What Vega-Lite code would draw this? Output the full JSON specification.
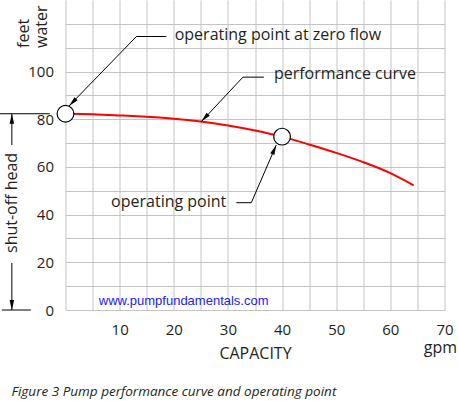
{
  "$schema": "https://vega.github.io/schema/vega-lite/v6.json",
  "width": 379,
  "height": 310,
  "autosize": {"type": "none"},
  "padding": {"left": 65.5, "top": 0, "right": 14.5, "bottom": 91},
  "background": "white",
  "title": {
    "text": "Figure 3 Pump performance curve and operating point",
    "orient": "bottom",
    "anchor": "start",
    "frame": "group",
    "dx": -54,
    "offset": 24,
    "font": "Open Sans",
    "fontSize": 13.5,
    "fontStyle": "italic",
    "fontWeight": "normal",
    "color": "#231f20"
  },
  "datasets": {
    "curve": [
      {"gpm": 0, "head": 82.3},
      {"gpm": 5, "head": 82.1},
      {"gpm": 10, "head": 81.6},
      {"gpm": 15, "head": 81.0},
      {"gpm": 20, "head": 80.2},
      {"gpm": 25, "head": 79.0},
      {"gpm": 30, "head": 77.4},
      {"gpm": 35, "head": 75.3},
      {"gpm": 40, "head": 72.7},
      {"gpm": 45, "head": 69.4},
      {"gpm": 50, "head": 65.9},
      {"gpm": 55, "head": 62.0},
      {"gpm": 60, "head": 57.4},
      {"gpm": 64.3, "head": 52.3}
    ],
    "points": [
      {"name": "operating point at zero flow", "gpm": 0, "head": 82.3},
      {"name": "operating point", "gpm": 40, "head": 72.7}
    ],
    "leaders": [
      {"id": "zero", "seq": 1, "gpm": 18.63, "head": 114.7},
      {"id": "zero", "seq": 2, "gpm": 13.1, "head": 114.7},
      {"id": "zero", "seq": 3, "gpm": 0.66, "head": 85.6},
      {"id": "curve", "seq": 1, "gpm": 36.64, "head": 97.65},
      {"id": "curve", "seq": 2, "gpm": 32.77, "head": 97.65},
      {"id": "curve", "seq": 3, "gpm": 25.09, "head": 79.0},
      {"id": "op", "seq": 1, "gpm": 31.55, "head": 45.0},
      {"id": "op", "seq": 2, "gpm": 34.32, "head": 45.0},
      {"id": "op", "seq": 3, "gpm": 38.93, "head": 69.2},
      {"id": "up", "seq": 1, "gpm": -9.91, "head": 69.2},
      {"id": "up", "seq": 2, "gpm": -9.91, "head": 82.3},
      {"id": "down", "seq": 1, "gpm": -9.91, "head": 19.7},
      {"id": "down", "seq": 2, "gpm": -9.91, "head": 0},
      {"id": "top", "seq": 1, "gpm": -12.12, "head": 82.3},
      {"id": "top", "seq": 2, "gpm": -2.9, "head": 82.3},
      {"id": "bottom", "seq": 1, "gpm": -11.75, "head": 0},
      {"id": "bottom", "seq": 2, "gpm": -6.4, "head": 0}
    ],
    "heads": [
      {"id": "zero", "gpm": 0.66, "head": 85.6, "heading": 224.2},
      {"id": "curve", "gpm": 25.09, "head": 79.0, "heading": 223.1},
      {"id": "op", "gpm": 38.93, "head": 69.2, "heading": 23.4},
      {"id": "up", "gpm": -9.91, "head": 82.3, "heading": 0},
      {"id": "down", "gpm": -9.91, "head": 0, "heading": 180}
    ],
    "labels": [
      {"role": "left", "text": "operating point at zero flow", "gpm": 20.17, "head": 115.2},
      {"role": "left", "text": "performance curve", "gpm": 38.49, "head": 99.0},
      {"role": "right", "text": "operating point", "gpm": 29.7, "head": 45.4},
      {"role": "unit", "text": "feet", "gpm": -7.7, "head": 109.9},
      {"role": "unit", "text": "water", "gpm": -4.37, "head": 109.9},
      {"role": "side", "text": "shut-off head", "gpm": -9.8, "head": 44.9},
      {"role": "gpm", "text": "gpm", "gpm": 69.24, "head": -15.9},
      {"role": "url", "text": "www.pumpfundamentals.com", "gpm": 6.14, "head": 3.57}
    ]
  },
  "encoding": {
    "x": {
      "field": "gpm",
      "type": "quantitative",
      "scale": {"domain": [0, 70], "nice": false},
      "axis": {
        "values": [0, 5, 10, 15, 20, 25, 30, 35, 40, 45, 50, 55, 60, 65, 70],
        "labelExpr": "datum.value % 10 == 0 && datum.value > 0 ? datum.label : ''",
        "labelOverlap": false,
        "labelFlush": false,
        "title": "CAPACITY",
        "ticks": false,
        "domain": false,
        "grid": true,
        "gridColor": "#c4c4c4",
        "gridOpacity": 1,
        "labelFont": "Open Sans",
        "labelFontSize": 15,
        "labelColor": "#231f20",
        "labelPadding": 12,
        "titleFont": "Open Sans",
        "titleFontSize": 16,
        "titleFontWeight": "normal",
        "titleColor": "#231f20",
        "titlePadding": 8
      }
    },
    "y": {
      "field": "head",
      "type": "quantitative",
      "scale": {"domain": [0, 130], "nice": false},
      "axis": {
        "values": [0, 10, 20, 30, 40, 50, 60, 70, 80, 90, 100, 110, 120],
        "labelExpr": "datum.value % 20 == 0 && datum.value <= 100 ? datum.label : ''",
        "labelOverlap": false,
        "labelFlush": false,
        "title": null,
        "ticks": false,
        "domain": false,
        "grid": true,
        "gridColor": "#c4c4c4",
        "gridOpacity": 1,
        "labelFont": "Open Sans",
        "labelFontSize": 15,
        "labelColor": "#231f20",
        "labelPadding": 12
      }
    }
  },
  "layer": [
    {
      "data": {"name": "curve"},
      "mark": {"type": "line", "color": "#ff0000", "strokeWidth": 2, "interpolate": "monotone"}
    },
    {
      "data": {"name": "points"},
      "mark": {"type": "point", "shape": "circle", "filled": true, "fill": "white", "stroke": "black", "strokeWidth": 1.2, "size": 280, "opacity": 1}
    },
    {
      "data": {"name": "leaders"},
      "mark": {"type": "line", "color": "black", "strokeWidth": 1},
      "encoding": {
        "detail": {"field": "id"},
        "order": {"field": "seq"}
      }
    },
    {
      "data": {"name": "heads"},
      "mark": {"type": "point", "shape": "M0,0L0.45,2L-0.45,2Z", "filled": true, "color": "black", "size": 100, "opacity": 1},
      "encoding": {
        "angle": {"field": "heading", "type": "quantitative", "scale": null}
      }
    },
    {
      "data": {"name": "labels"},
      "transform": [{"filter": "datum.role == 'left'"}],
      "mark": {"type": "text", "align": "left", "baseline": "middle", "font": "Open Sans", "fontSize": 16, "color": "#231f20"},
      "encoding": {"text": {"field": "text"}}
    },
    {
      "data": {"name": "labels"},
      "transform": [{"filter": "datum.role == 'right'"}],
      "mark": {"type": "text", "align": "right", "baseline": "middle", "font": "Open Sans", "fontSize": 16, "color": "#231f20"},
      "encoding": {"text": {"field": "text"}}
    },
    {
      "data": {"name": "labels"},
      "transform": [{"filter": "datum.role == 'unit'"}],
      "mark": {"type": "text", "align": "left", "baseline": "middle", "angle": 270, "font": "Open Sans", "fontSize": 16, "color": "#231f20"},
      "encoding": {"text": {"field": "text"}}
    },
    {
      "data": {"name": "labels"},
      "transform": [{"filter": "datum.role == 'side'"}],
      "mark": {"type": "text", "align": "center", "baseline": "middle", "angle": 270, "font": "Open Sans", "fontSize": 16, "color": "#231f20"},
      "encoding": {"text": {"field": "text"}}
    },
    {
      "data": {"name": "labels"},
      "transform": [{"filter": "datum.role == 'gpm'"}],
      "mark": {"type": "text", "align": "center", "baseline": "middle", "font": "Open Sans", "fontSize": 16, "color": "#231f20"},
      "encoding": {"text": {"field": "text"}}
    },
    {
      "data": {"name": "labels"},
      "transform": [{"filter": "datum.role == 'url'"}],
      "mark": {"type": "text", "align": "left", "baseline": "middle", "font": "Liberation Sans", "fontSize": 13, "color": "#1a1aff"},
      "encoding": {"text": {"field": "text"}}
    }
  ],
  "config": {"view": {"stroke": null}}
}
